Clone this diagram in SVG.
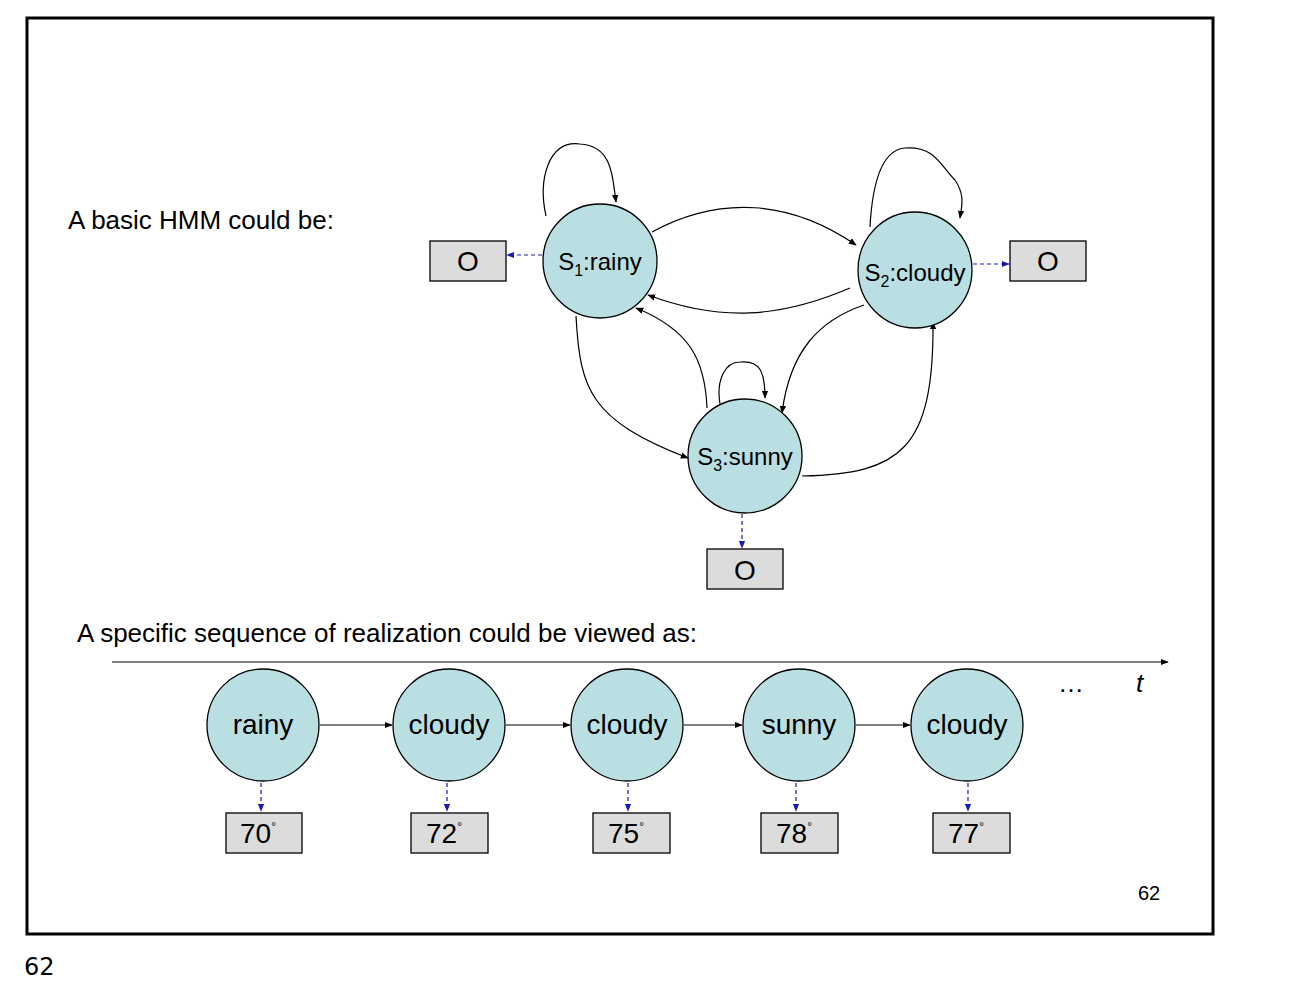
<svg xmlns="http://www.w3.org/2000/svg" width="1308" height="990" viewBox="0 0 1308 990">
<style>
text{font-family:"Liberation Sans",Arial,sans-serif;fill:#000}
.st{fill:#b9dfe3;stroke:#000;stroke-width:1.3}
.ob{fill:#dcdcdc;stroke:#000;stroke-width:1.3}
.e{fill:none;stroke:#000;stroke-width:1.2;marker-end:url(#a)}
.d{fill:none;stroke:#1a1ab0;stroke-width:1.2;stroke-dasharray:4 3;marker-end:url(#b)}
.lbl{font-size:26px;text-anchor:middle}
.ol{font-size:28px;text-anchor:middle}
</style>
<defs>
<marker id="a" viewBox="0 0 10 10" refX="9" refY="5" markerWidth="8" markerHeight="8" orient="auto" markerUnits="userSpaceOnUse"><path d="M0,1L10,5L0,9z" fill="#000"/></marker>
<marker id="b" viewBox="0 0 10 10" refX="9" refY="5" markerWidth="8" markerHeight="8" orient="auto" markerUnits="userSpaceOnUse"><path d="M0,1L10,5L0,9z" fill="#1a1ab0"/></marker>
</defs>
<rect width="1308" height="990" fill="#fff"/>
<rect x="27" y="18" width="1186" height="916" fill="none" stroke="#000" stroke-width="3"/>
<text x="68" y="229" font-size="26">A basic HMM could be:</text>
<text x="77" y="642" font-size="26">A specific sequence of realization could be viewed as:</text>
<text x="1138" y="900" font-size="20">62</text>
<text x="24" y="975" font-size="24" style="font-family:'DejaVu Sans',sans-serif">62</text>
<g id="connectors">
<path class="e" d="M546,216 C538,180 548,140 580,144 C610,146 612,170 616,202"/>
<path class="e" d="M870,227 C872,190 880,150 905,148 C935,146 940,165 955,180 C965,195 962,205 960,218"/>
<path class="e" d="M720,404 C716,380 725,362 740,362 C760,360 765,372 765,398"/>
<path class="e" d="M652,232 C720,195 790,200 856,245"/>
<path class="e" d="M850,288 C780,318 720,322 648,295"/>
<path class="e" d="M707,408 C705,360 690,330 636,308"/>
<path class="e" d="M576,316 C580,390 590,420 688,458"/>
<path class="e" d="M864,305 C820,320 790,350 782,413"/>
<path class="e" d="M802,476 C900,474 934,450 933,322"/>
<path class="d" d="M542,255 L507,255"/>
<path class="d" d="M973,264 L1009,264"/>
<path class="d" d="M742,514 L742,548"/>
<path class="e" d="M112,662 L1168,662"/>
<path class="e" d="M320,725 L392,725"/>
<path class="e" d="M506,725 L570,725"/>
<path class="e" d="M684,725 L742,725"/>
<path class="e" d="M856,725 L910,725"/>
<path class="d" d="M261,783 L261,811"/>
<path class="d" d="M447,783 L447,811"/>
<path class="d" d="M628,783 L628,811"/>
<path class="d" d="M796,783 L796,811"/>
<path class="d" d="M968,783 L968,811"/>
</g>
<g id="s1"><ellipse class="st" cx="600" cy="261" rx="57" ry="57"/><text x="600" y="270" class="lbl" font-size="24" style="font-size:24px">S<tspan font-size="16" dy="6">1</tspan><tspan dy="-6">:rainy</tspan></text></g>
<g id="s2"><ellipse class="st" cx="915" cy="270" rx="57" ry="58"/><text x="915" y="281" class="lbl" style="font-size:24px">S<tspan font-size="16" dy="6">2</tspan><tspan dy="-6">:cloudy</tspan></text></g>
<g id="s3"><ellipse class="st" cx="745" cy="456" rx="57" ry="57"/><text x="745" y="465" class="lbl" style="font-size:24px">S<tspan font-size="16" dy="6">3</tspan><tspan dy="-6">:sunny</tspan></text></g>
<g id="o1"><rect class="ob" x="430" y="241" width="76" height="40"/><text x="468" y="271" class="ol">O</text></g>
<g id="o2"><rect class="ob" x="1010" y="241" width="76" height="40"/><text x="1048" y="271" class="ol">O</text></g>
<g id="o3"><rect class="ob" x="707" y="549" width="76" height="40"/><text x="745" y="580" class="ol">O</text></g>
<text x="1058" y="692" font-size="26">…</text>
<text x="1136" y="692" font-size="26" font-style="italic">t</text>
<g id="n1"><circle class="st" cx="263" cy="725" r="56"/><text x="263" y="734" class="ol">rainy</text></g>
<g id="n2"><circle class="st" cx="449" cy="725" r="56"/><text x="449" y="734" class="ol">cloudy</text></g>
<g id="n3"><circle class="st" cx="627" cy="725" r="56"/><text x="627" y="734" class="ol">cloudy</text></g>
<g id="n4"><circle class="st" cx="799" cy="725" r="56"/><text x="799" y="734" class="ol">sunny</text></g>
<g id="n5"><circle class="st" cx="967" cy="725" r="56"/><text x="967" y="734" class="ol">cloudy</text></g>
<g id="b1"><rect class="ob" x="226" y="813" width="76" height="40"/><text x="258" y="843" class="ol">70<tspan font-size="12" dy="-12">°</tspan></text></g>
<g id="b2"><rect class="ob" x="411" y="813" width="77" height="40"/><text x="444" y="843" class="ol">72<tspan font-size="12" dy="-12">°</tspan></text></g>
<g id="b3"><rect class="ob" x="593" y="813" width="77" height="40"/><text x="626" y="843" class="ol">75<tspan font-size="12" dy="-12">°</tspan></text></g>
<g id="b4"><rect class="ob" x="761" y="813" width="77" height="40"/><text x="794" y="843" class="ol">78<tspan font-size="12" dy="-12">°</tspan></text></g>
<g id="b5"><rect class="ob" x="933" y="813" width="77" height="40"/><text x="966" y="843" class="ol">77<tspan font-size="12" dy="-12">°</tspan></text></g>
</svg>
